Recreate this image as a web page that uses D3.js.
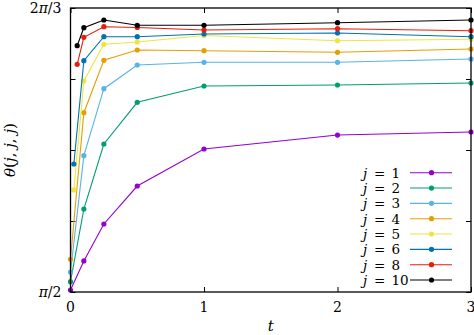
<!DOCTYPE html>
<html>
<head>
<meta charset="utf-8">
<script src="https://cdn.jsdelivr.net/npm/d3@7"></script>
<style>
  body { margin: 0; background: #fff; }
  svg { display: block; }
</style>
</head>
<body>
<div id="chart"></div>
<script>
// ---- data ----
const PI = Math.PI;
const labels = ["1", "2", "3", "4", "5", "6", "8", "10"];
const colors = ["#9400d3", "#009e73", "#56b4e9", "#e69f00", "#f0e442", "#0072b2", "#e51e10", "#000000"];
const tJ1 = [0, 0.1, 0.25, 0.5, 1, 2, 3];
const tJ5 = [0.025, 0.1, 0.25, 0.5, 1, 2, 3];
const tJ8 = [0.05, 0.1, 0.25, 0.5, 1, 2, 3];
const j1 = [1.5745, 1.6280, 1.6962, 1.7662, 1.8344, 1.8602, 1.8658];
const j2 = [1.5898, 1.7238, 1.8437, 1.9205, 1.9506, 1.9524, 1.9561];
const j3 = [1.6077, 1.8221, 1.9456, 1.9893, 1.9943, 1.9943, 2.0004];
const j4 = [1.6311, 1.9014, 1.9980, 2.0170, 2.0157, 2.0127, 2.0188];
const j5 = [1.7589, 1.9598, 2.0275, 2.0317, 2.0437, 2.0341, 2.0367];
const j6 = [1.8068, 1.9972, 2.0415, 2.0415, 2.0465, 2.0483, 2.0415];
const j8 = [1.9906, 2.0404, 2.0599, 2.0584, 2.0538, 2.0562, 2.0525];
const j10 = [2.0249, 2.0581, 2.0723, 2.0625, 2.0625, 2.0673, 2.0723];
const seriesT = [tJ1, tJ1, tJ1, tJ1, tJ5, tJ5, tJ8, tJ8];
const seriesV = [j1, j2, j3, j4, j5, j6, j8, j10];
const xTicks = [0, 1, 2, 3];
const xTickLabels = ["0", "1", "2", "3"];
const yTicks = [PI/2, PI/2 + PI/24, PI/2 + 2*PI/24, PI/2 + 3*PI/24, 2*PI/3];

// ---- layout ----
const W = 474, H = 335;
const FONT = "DejaVu Serif";
const m = { left: 70.5, right: 3, top: 8, bottom: 43 };
const svg = d3.select("#chart").append("svg").attr("width", W).attr("height", H)
  .style("font-family", FONT);
const x = d3.scaleLinear().domain([0, 3]).range([m.left, W - m.right]);
const y = d3.scaleLinear().domain([PI/2, 2*PI/3]).range([H - m.bottom, m.top]);
const x0 = x.range()[0], x1 = x.range()[1], yb = y.range()[0], yt = y.range()[1];

// ticks (inward, mirrored)
const tl = 5;
svg.append("g").attr("transform", `translate(0,${yb})`)
  .call(d3.axisTop(x).tickValues(xTicks).tickSize(tl).tickFormat(""))
  .call(s => s.select(".domain").remove());
svg.append("g").attr("transform", `translate(0,${yt})`)
  .call(d3.axisBottom(x).tickValues(xTicks).tickSize(tl).tickFormat(""))
  .call(s => s.select(".domain").remove());
svg.append("g").attr("transform", `translate(${x0},0)`)
  .call(d3.axisRight(y).tickValues(yTicks).tickSize(tl).tickFormat(""))
  .call(s => s.select(".domain").remove());
svg.append("g").attr("transform", `translate(${x1},0)`)
  .call(d3.axisLeft(y).tickValues(yTicks).tickSize(tl).tickFormat(""))
  .call(s => s.select(".domain").remove());
svg.selectAll(".tick line").attr("stroke", "#000").attr("stroke-width", 1);

// x tick labels
svg.append("g").selectAll("text").data(xTicks).join("text")
  .attr("x", d => x(d)).attr("y", yb + 20)
  .attr("text-anchor", "middle").attr("font-size", 14).style("font-family", FONT)
  .text((d, i) => xTickLabels[i]);

// y end labels
function fracLabel(yy, two, den) {
  const t = svg.append("text").attr("x", x0 - 9).attr("y", yy + 5)
    .attr("text-anchor", "end").attr("font-size", 14).style("font-family", FONT);
  if (two) { t.append("tspan").text("2"); }
  t.append("tspan").attr("font-style", "italic").text("π");
  t.append("tspan").text("/");
  t.append("tspan").text(den);
}
fracLabel(y(2*PI/3), true, "3");
fracLabel(y(PI/2), false, "2");

// axis titles
svg.append("text").attr("x", (x0 + x1) / 2).attr("y", H - 4)
  .attr("text-anchor", "middle").attr("font-size", 15).attr("font-style", "italic")
  .style("font-family", FONT).text("t");
const yl = svg.append("text").attr("transform", `translate(15,${(yt + yb) / 2}) rotate(-90)`)
  .attr("text-anchor", "middle").attr("font-size", 15).style("font-family", FONT);
yl.append("tspan").attr("font-style", "italic").text("θ");
yl.append("tspan").text("(");
yl.append("tspan").attr("font-style", "italic").text("j");
yl.append("tspan").text(", ");
yl.append("tspan").attr("font-style", "italic").text("j");
yl.append("tspan").text(", ");
yl.append("tspan").attr("font-style", "italic").text("j");
yl.append("tspan").text(")");

// series
const line = d3.line().x(d => x(d[0])).y(d => y(d[1]));
seriesV.forEach((vals, i) => {
  const pts = vals.map((v, k) => [seriesT[i][k], v]);
  svg.append("path").datum(pts).attr("d", line)
    .attr("fill", "none").attr("stroke", colors[i]).attr("stroke-width", 1.1);
  svg.append("g").selectAll("circle").data(pts).join("circle")
    .attr("cx", d => x(d[0])).attr("cy", d => y(d[1])).attr("r", 2.6)
    .attr("fill", colors[i]);
});

// legend
const lg = svg.append("g");
labels.forEach((lab, i) => {
  const cy = 172.7 + i * 15.33;
  const t = lg.append("text").attr("y", cy + 5).attr("font-size", 13.5).style("font-family", FONT);
  t.append("tspan").attr("x", 363).attr("font-style", "italic").text("j");
  t.append("tspan").attr("x", 374).text("=");
  t.append("tspan").attr("x", 391.5).text(lab);
  lg.append("line").attr("x1", 410).attr("x2", 452).attr("y1", cy).attr("y2", cy)
    .attr("stroke", colors[i]).attr("stroke-width", 1.1);
  lg.append("circle").attr("cx", 431.5).attr("cy", cy).attr("r", 2.6).attr("fill", colors[i]);
});

// frame
svg.append("rect").attr("x", x0).attr("y", yt).attr("width", x1 - x0).attr("height", yb - yt)
  .attr("fill", "none").attr("stroke", "#000").attr("stroke-width", 1.3);
</script>
</body>
</html>
